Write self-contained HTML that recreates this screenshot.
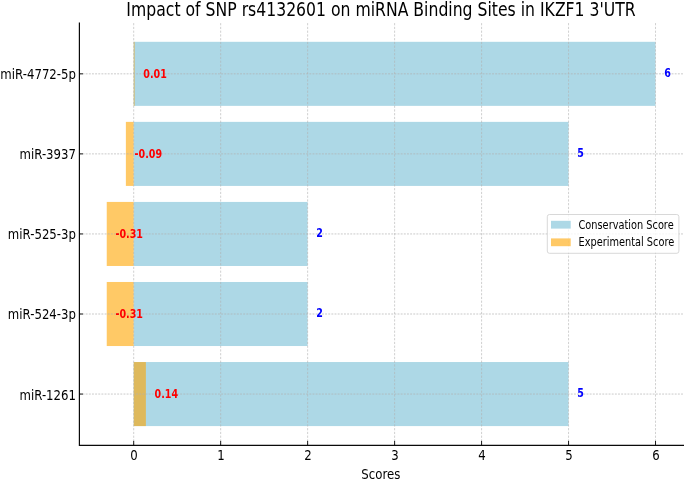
<!DOCTYPE html>
<html lang="en">
<head>
<meta charset="utf-8">
<title>Impact of SNP rs4132601 on miRNA Binding Sites</title>
<style>html,body{margin:0;padding:0;background:#fff;}svg{display:block;}</style>
</head>
<body>
<svg width="685" height="480" viewBox="0 0 685 480" font-family='"DejaVu Sans", "Liberation Sans", sans-serif'>
<rect width="685" height="480" fill="#fff"/>
<rect x="133.70" y="362.04" width="434.85" height="64.05" fill="#add8e6"/>
<rect x="133.70" y="281.98" width="173.94" height="64.05" fill="#add8e6"/>
<rect x="133.70" y="201.93" width="173.94" height="64.05" fill="#add8e6"/>
<rect x="133.70" y="121.87" width="434.85" height="64.05" fill="#add8e6"/>
<rect x="133.70" y="41.81" width="521.82" height="64.05" fill="#add8e6"/>
<rect x="133.70" y="362.04" width="12.18" height="64.05" fill="#ffa500" fill-opacity="0.6"/>
<rect x="106.74" y="281.98" width="26.96" height="64.05" fill="#ffa500" fill-opacity="0.6"/>
<rect x="106.74" y="201.93" width="26.96" height="64.05" fill="#ffa500" fill-opacity="0.6"/>
<rect x="125.87" y="121.87" width="7.83" height="64.05" fill="#ffa500" fill-opacity="0.6"/>
<rect x="133.70" y="41.81" width="0.87" height="64.05" fill="#ffa500" fill-opacity="0.6"/>
<g stroke="#b0b0b0" stroke-opacity="0.8" fill="none">
<line x1="133.70" y1="445.3" x2="133.70" y2="22.6" stroke-width="0.75" stroke-dasharray="2.2 1.55"/>
<line x1="220.67" y1="445.3" x2="220.67" y2="22.6" stroke-width="0.75" stroke-dasharray="2.2 1.55"/>
<line x1="307.64" y1="445.3" x2="307.64" y2="22.6" stroke-width="0.75" stroke-dasharray="2.2 1.55"/>
<line x1="394.61" y1="445.3" x2="394.61" y2="22.6" stroke-width="0.75" stroke-dasharray="2.2 1.55"/>
<line x1="481.58" y1="445.3" x2="481.58" y2="22.6" stroke-width="0.75" stroke-dasharray="2.2 1.55"/>
<line x1="568.55" y1="445.3" x2="568.55" y2="22.6" stroke-width="0.75" stroke-dasharray="2.2 1.55"/>
<line x1="655.52" y1="445.3" x2="655.52" y2="22.6" stroke-width="0.75" stroke-dasharray="2.2 1.55"/>
<line x1="79.4" y1="394.06" x2="683.4" y2="394.06" stroke-width="0.85" stroke-dasharray="1.9 1.25"/>
<line x1="79.4" y1="314.01" x2="683.4" y2="314.01" stroke-width="0.85" stroke-dasharray="1.9 1.25"/>
<line x1="79.4" y1="233.95" x2="683.4" y2="233.95" stroke-width="0.85" stroke-dasharray="1.9 1.25"/>
<line x1="79.4" y1="153.89" x2="683.4" y2="153.89" stroke-width="0.85" stroke-dasharray="1.9 1.25"/>
<line x1="79.4" y1="73.84" x2="683.4" y2="73.84" stroke-width="0.85" stroke-dasharray="1.9 1.25"/>
</g>
<g stroke="#000" stroke-width="0.9">
<line x1="133.70" y1="445.3" x2="133.70" y2="440.90000000000003"/>
<line x1="220.67" y1="445.3" x2="220.67" y2="440.90000000000003"/>
<line x1="307.64" y1="445.3" x2="307.64" y2="440.90000000000003"/>
<line x1="394.61" y1="445.3" x2="394.61" y2="440.90000000000003"/>
<line x1="481.58" y1="445.3" x2="481.58" y2="440.90000000000003"/>
<line x1="568.55" y1="445.3" x2="568.55" y2="440.90000000000003"/>
<line x1="655.52" y1="445.3" x2="655.52" y2="440.90000000000003"/>
<line x1="79.4" y1="394.06" x2="83.0" y2="394.06"/>
<line x1="79.4" y1="314.01" x2="83.0" y2="314.01"/>
<line x1="79.4" y1="233.95" x2="83.0" y2="233.95"/>
<line x1="79.4" y1="153.89" x2="83.0" y2="153.89"/>
<line x1="79.4" y1="73.84" x2="83.0" y2="73.84"/>
</g>
<path d="M79.4,23.0 V445.3 H683.4" fill="none" stroke="#0a0a0a" stroke-width="1.2" stroke-linecap="square"/>
<text transform="translate(134.10,460.40) scale(0.845,1)" font-size="13.9" text-anchor="middle" fill="#000" font-weight="normal">0</text>
<text transform="translate(221.07,460.40) scale(0.845,1)" font-size="13.9" text-anchor="middle" fill="#000" font-weight="normal">1</text>
<text transform="translate(308.04,460.40) scale(0.845,1)" font-size="13.9" text-anchor="middle" fill="#000" font-weight="normal">2</text>
<text transform="translate(395.01,460.40) scale(0.845,1)" font-size="13.9" text-anchor="middle" fill="#000" font-weight="normal">3</text>
<text transform="translate(481.98,460.40) scale(0.845,1)" font-size="13.9" text-anchor="middle" fill="#000" font-weight="normal">4</text>
<text transform="translate(568.95,460.40) scale(0.845,1)" font-size="13.9" text-anchor="middle" fill="#000" font-weight="normal">5</text>
<text transform="translate(655.92,460.40) scale(0.845,1)" font-size="13.9" text-anchor="middle" fill="#000" font-weight="normal">6</text>
<text transform="translate(76.00,399.51) scale(0.845,1)" font-size="13.9" text-anchor="end" fill="#000" font-weight="normal">miR-1261</text>
<text transform="translate(76.00,319.46) scale(0.845,1)" font-size="13.9" text-anchor="end" fill="#000" font-weight="normal">miR-524-3p</text>
<text transform="translate(76.00,239.40) scale(0.845,1)" font-size="13.9" text-anchor="end" fill="#000" font-weight="normal">miR-525-3p</text>
<text transform="translate(76.00,159.34) scale(0.845,1)" font-size="13.9" text-anchor="end" fill="#000" font-weight="normal">miR-3937</text>
<text transform="translate(76.00,79.29) scale(0.845,1)" font-size="13.9" text-anchor="end" fill="#000" font-weight="normal">miR-4772-5p</text>
<text transform="translate(380.85,478.60) scale(0.845,1)" font-size="13.9" text-anchor="middle" fill="#000" font-weight="normal">Scores</text>
<text transform="translate(381.05,15.50) scale(0.8335,1)" font-size="18.8" text-anchor="middle" fill="#000" font-weight="normal">Impact of SNP rs4132601 on miRNA Binding Sites in IKZF1 3'UTR</text>
<text transform="translate(577.25,397.41) scale(0.823,1)" font-size="11.6" text-anchor="start" fill="#0000ff" font-weight="bold">5</text>
<text transform="translate(154.57,397.86) scale(0.823,1)" font-size="11.6" text-anchor="start" fill="#ff0000" font-weight="bold">0.14</text>
<text transform="translate(316.34,317.36) scale(0.823,1)" font-size="11.6" text-anchor="start" fill="#0000ff" font-weight="bold">2</text>
<text transform="translate(115.44,317.81) scale(0.823,1)" font-size="11.6" text-anchor="start" fill="#ff0000" font-weight="bold">-0.31</text>
<text transform="translate(316.34,237.30) scale(0.823,1)" font-size="11.6" text-anchor="start" fill="#0000ff" font-weight="bold">2</text>
<text transform="translate(115.44,237.75) scale(0.823,1)" font-size="11.6" text-anchor="start" fill="#ff0000" font-weight="bold">-0.31</text>
<text transform="translate(577.25,157.24) scale(0.823,1)" font-size="11.6" text-anchor="start" fill="#0000ff" font-weight="bold">5</text>
<text transform="translate(134.57,157.69) scale(0.823,1)" font-size="11.6" text-anchor="start" fill="#ff0000" font-weight="bold">-0.09</text>
<text transform="translate(664.22,77.19) scale(0.823,1)" font-size="11.6" text-anchor="start" fill="#0000ff" font-weight="bold">6</text>
<text transform="translate(143.27,77.64) scale(0.823,1)" font-size="11.6" text-anchor="start" fill="#ff0000" font-weight="bold">0.01</text>
<rect x="547.3" y="214.5" width="131.6" height="38.8" rx="2.2" ry="2.2" fill="#fff" fill-opacity="0.8" stroke="#cccccc" stroke-opacity="0.8" stroke-width="0.95"/>
<rect x="551.0" y="220.8" width="19.7" height="7.8" fill="#add8e6"/>
<rect x="551.0" y="238.4" width="19.7" height="7.8" fill="#ffa500" fill-opacity="0.6"/>
<text transform="translate(578.50,228.50) scale(0.845,1)" font-size="11.6" text-anchor="start" fill="#000" font-weight="normal">Conservation Score</text>
<text transform="translate(578.50,246.20) scale(0.845,1)" font-size="11.6" text-anchor="start" fill="#000" font-weight="normal">Experimental Score</text>
</svg>
</body>
</html>
